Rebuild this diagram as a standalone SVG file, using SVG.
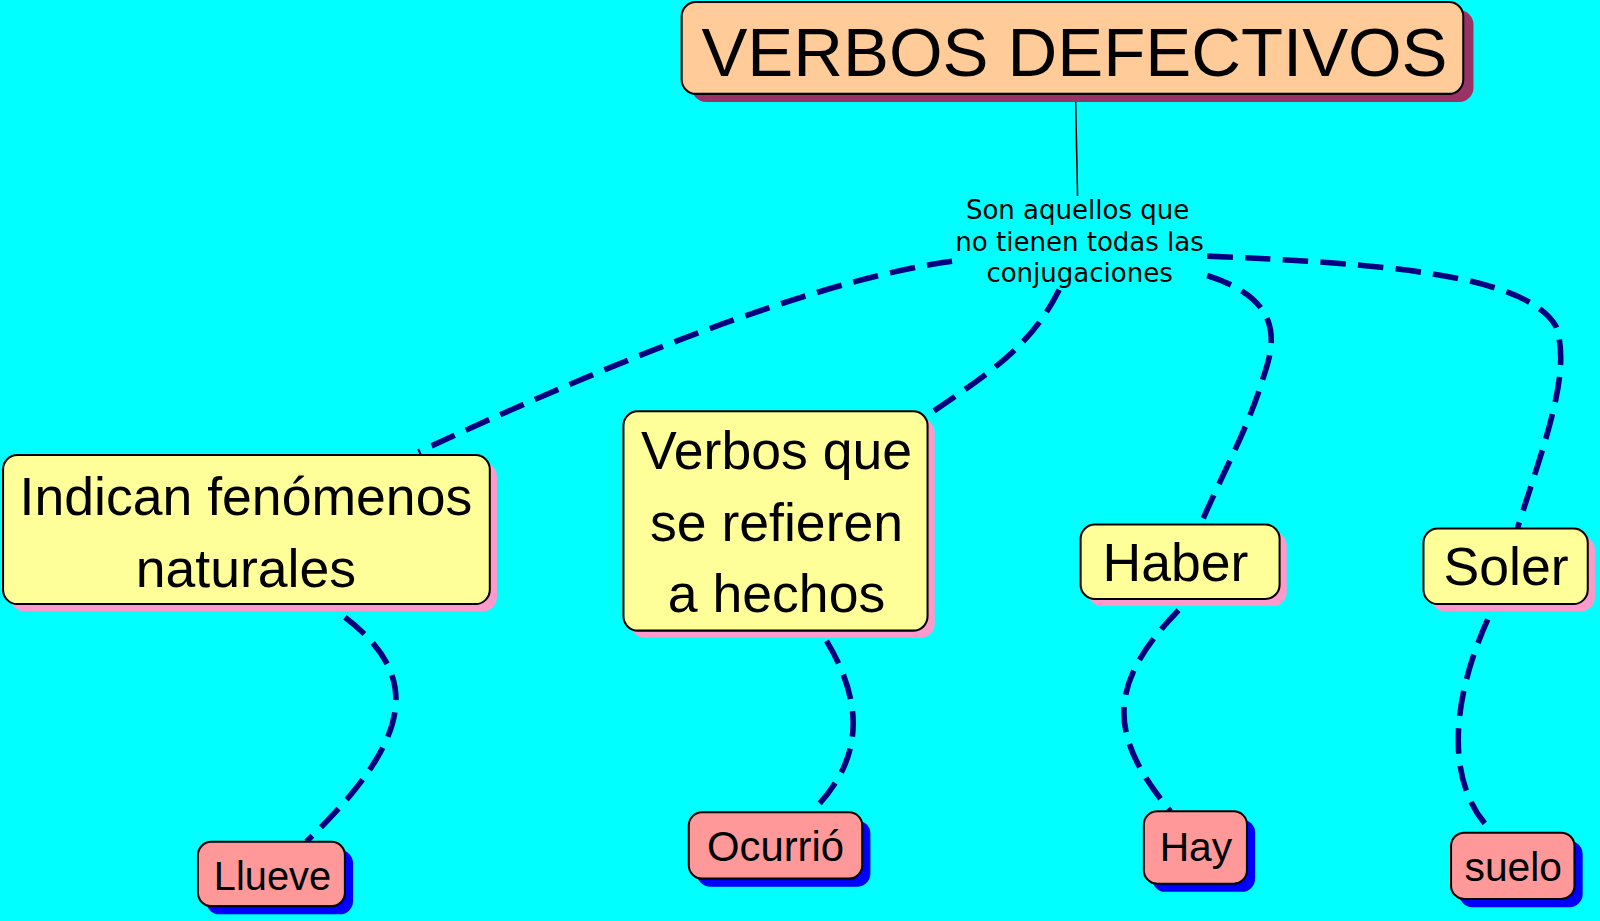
<svg xmlns="http://www.w3.org/2000/svg" width="1600" height="921" viewBox="0 0 1600 921">
<style>
.bg{fill:#00FFFF}
.box{stroke:#000;stroke-width:2}
.title{fill:#FFCC99}
.tshadow{fill:#993366}
.yel{fill:#FFFF99}
.yshadow{fill:#FF99CC}
.pink{fill:#FF9999}
.pshadow{fill:#0000FF}
.t{font-family:"Liberation Sans",Arial,sans-serif;fill:#000;text-anchor:middle}
.lt{font-family:"DejaVu Sans",Verdana,sans-serif;font-size:25.5px;fill:#000;text-anchor:middle}
.dash{fill:none;stroke:#000080;stroke-width:5.5;stroke-dasharray:25 12}
.solid{fill:none;stroke:#000;stroke-width:1.5}
</style>
<rect class="bg" x="0" y="0" width="1600" height="921"/>
<g transform="scale(1.02041)">
<g id="connectors">
<path class="solid" d="M1054,93 L1056,192"/>
<path class="dash" d="M933,256 Q760,280 410,443"/>
<path class="dash" d="M1038,284 C1010,340 970,365 912,405"/>
<path class="dash" d="M1183,270 C1262,295 1248,340 1238,370 C1223,420 1200,460 1177,513"/>
<path class="dash" d="M1183,251 C1350,258 1495,268 1525,320 C1540,365 1515,430 1487,518"/>
<path class="dash" d="M338,605 C410,660 410,720 300,825"/>
<path class="dash" d="M810,628 C847,690 847,745 795,796"/>
<path class="dash" d="M1155,598 C1085,670 1085,720 1147,795"/>
<path class="dash" d="M1458,607 C1425,680 1415,760 1456,808"/>
</g>
<g id="link-label">
<text class="lt" x="1056" y="215">Son aquellos que</text>
<text class="lt" x="1058" y="246">no tienen todas las</text>
<text class="lt" x="1058" y="276">conjugaciones</text>
</g>
<g id="node-title">
<rect class="tshadow" x="678" y="10" width="766" height="90" rx="14"/>
<rect class="title box" x="668" y="2" width="766" height="90" rx="14"/>
<text class="t" x="1053" y="74" font-size="67.5">VERBOS DEFECTIVOS</text>
</g>
<g id="node-indican">
<rect class="yshadow" x="10" y="453" width="477" height="146" rx="14"/>
<rect class="yel box" x="3" y="446" width="477" height="146" rx="14"/>
<text class="t" x="241" y="505" font-size="52.5">Indican fenómenos</text>
<text class="t" x="241" y="575" font-size="52.5">naturales</text>
</g>
<g id="node-verbos">
<rect class="yshadow" x="618" y="410" width="298" height="215" rx="14"/>
<rect class="yel box" x="611" y="403" width="298" height="215" rx="14"/>
<text class="t" x="761" y="460" font-size="52.5">Verbos que</text>
<text class="t" x="761" y="530" font-size="52.5">se refieren</text>
<text class="t" x="761" y="600" font-size="52.5">a hechos</text>
</g>
<g id="node-haber">
<rect class="yshadow" x="1066" y="521" width="195" height="73" rx="14"/>
<rect class="yel box" x="1059" y="514" width="195" height="73" rx="14"/>
<text class="t" x="1152" y="569" font-size="52.5">Haber</text>
</g>
<g id="node-soler">
<rect class="yshadow" x="1402" y="525" width="161" height="74" rx="14"/>
<rect class="yel box" x="1395" y="518" width="161" height="74" rx="14"/>
<text class="t" x="1476" y="573" font-size="52.5">Soler</text>
</g>
<g id="node-llueve">
<rect class="pshadow" x="202" y="833" width="144" height="63" rx="13"/>
<rect class="pink box" x="194" y="825" width="144" height="63" rx="13"/>
<text class="t" x="267" y="872" font-size="39">Llueve</text>
</g>
<g id="node-ocurrio">
<rect class="pshadow" x="683" y="804" width="170" height="65" rx="13"/>
<rect class="pink box" x="675" y="796" width="170" height="65" rx="13"/>
<text class="t" x="760" y="844" font-size="41">Ocurrió</text>
</g>
<g id="node-hay">
<rect class="pshadow" x="1129" y="803" width="101" height="71" rx="13"/>
<rect class="pink box" x="1121" y="795" width="101" height="71" rx="13"/>
<text class="t" x="1172" y="844" font-size="40">Hay</text>
</g>
<g id="node-suelo">
<rect class="pshadow" x="1430" y="824" width="121" height="65" rx="13"/>
<rect class="pink box" x="1422" y="816" width="121" height="65" rx="13"/>
<text class="t" x="1483" y="863" font-size="40">suelo</text>
</g>
</g>
</svg>
